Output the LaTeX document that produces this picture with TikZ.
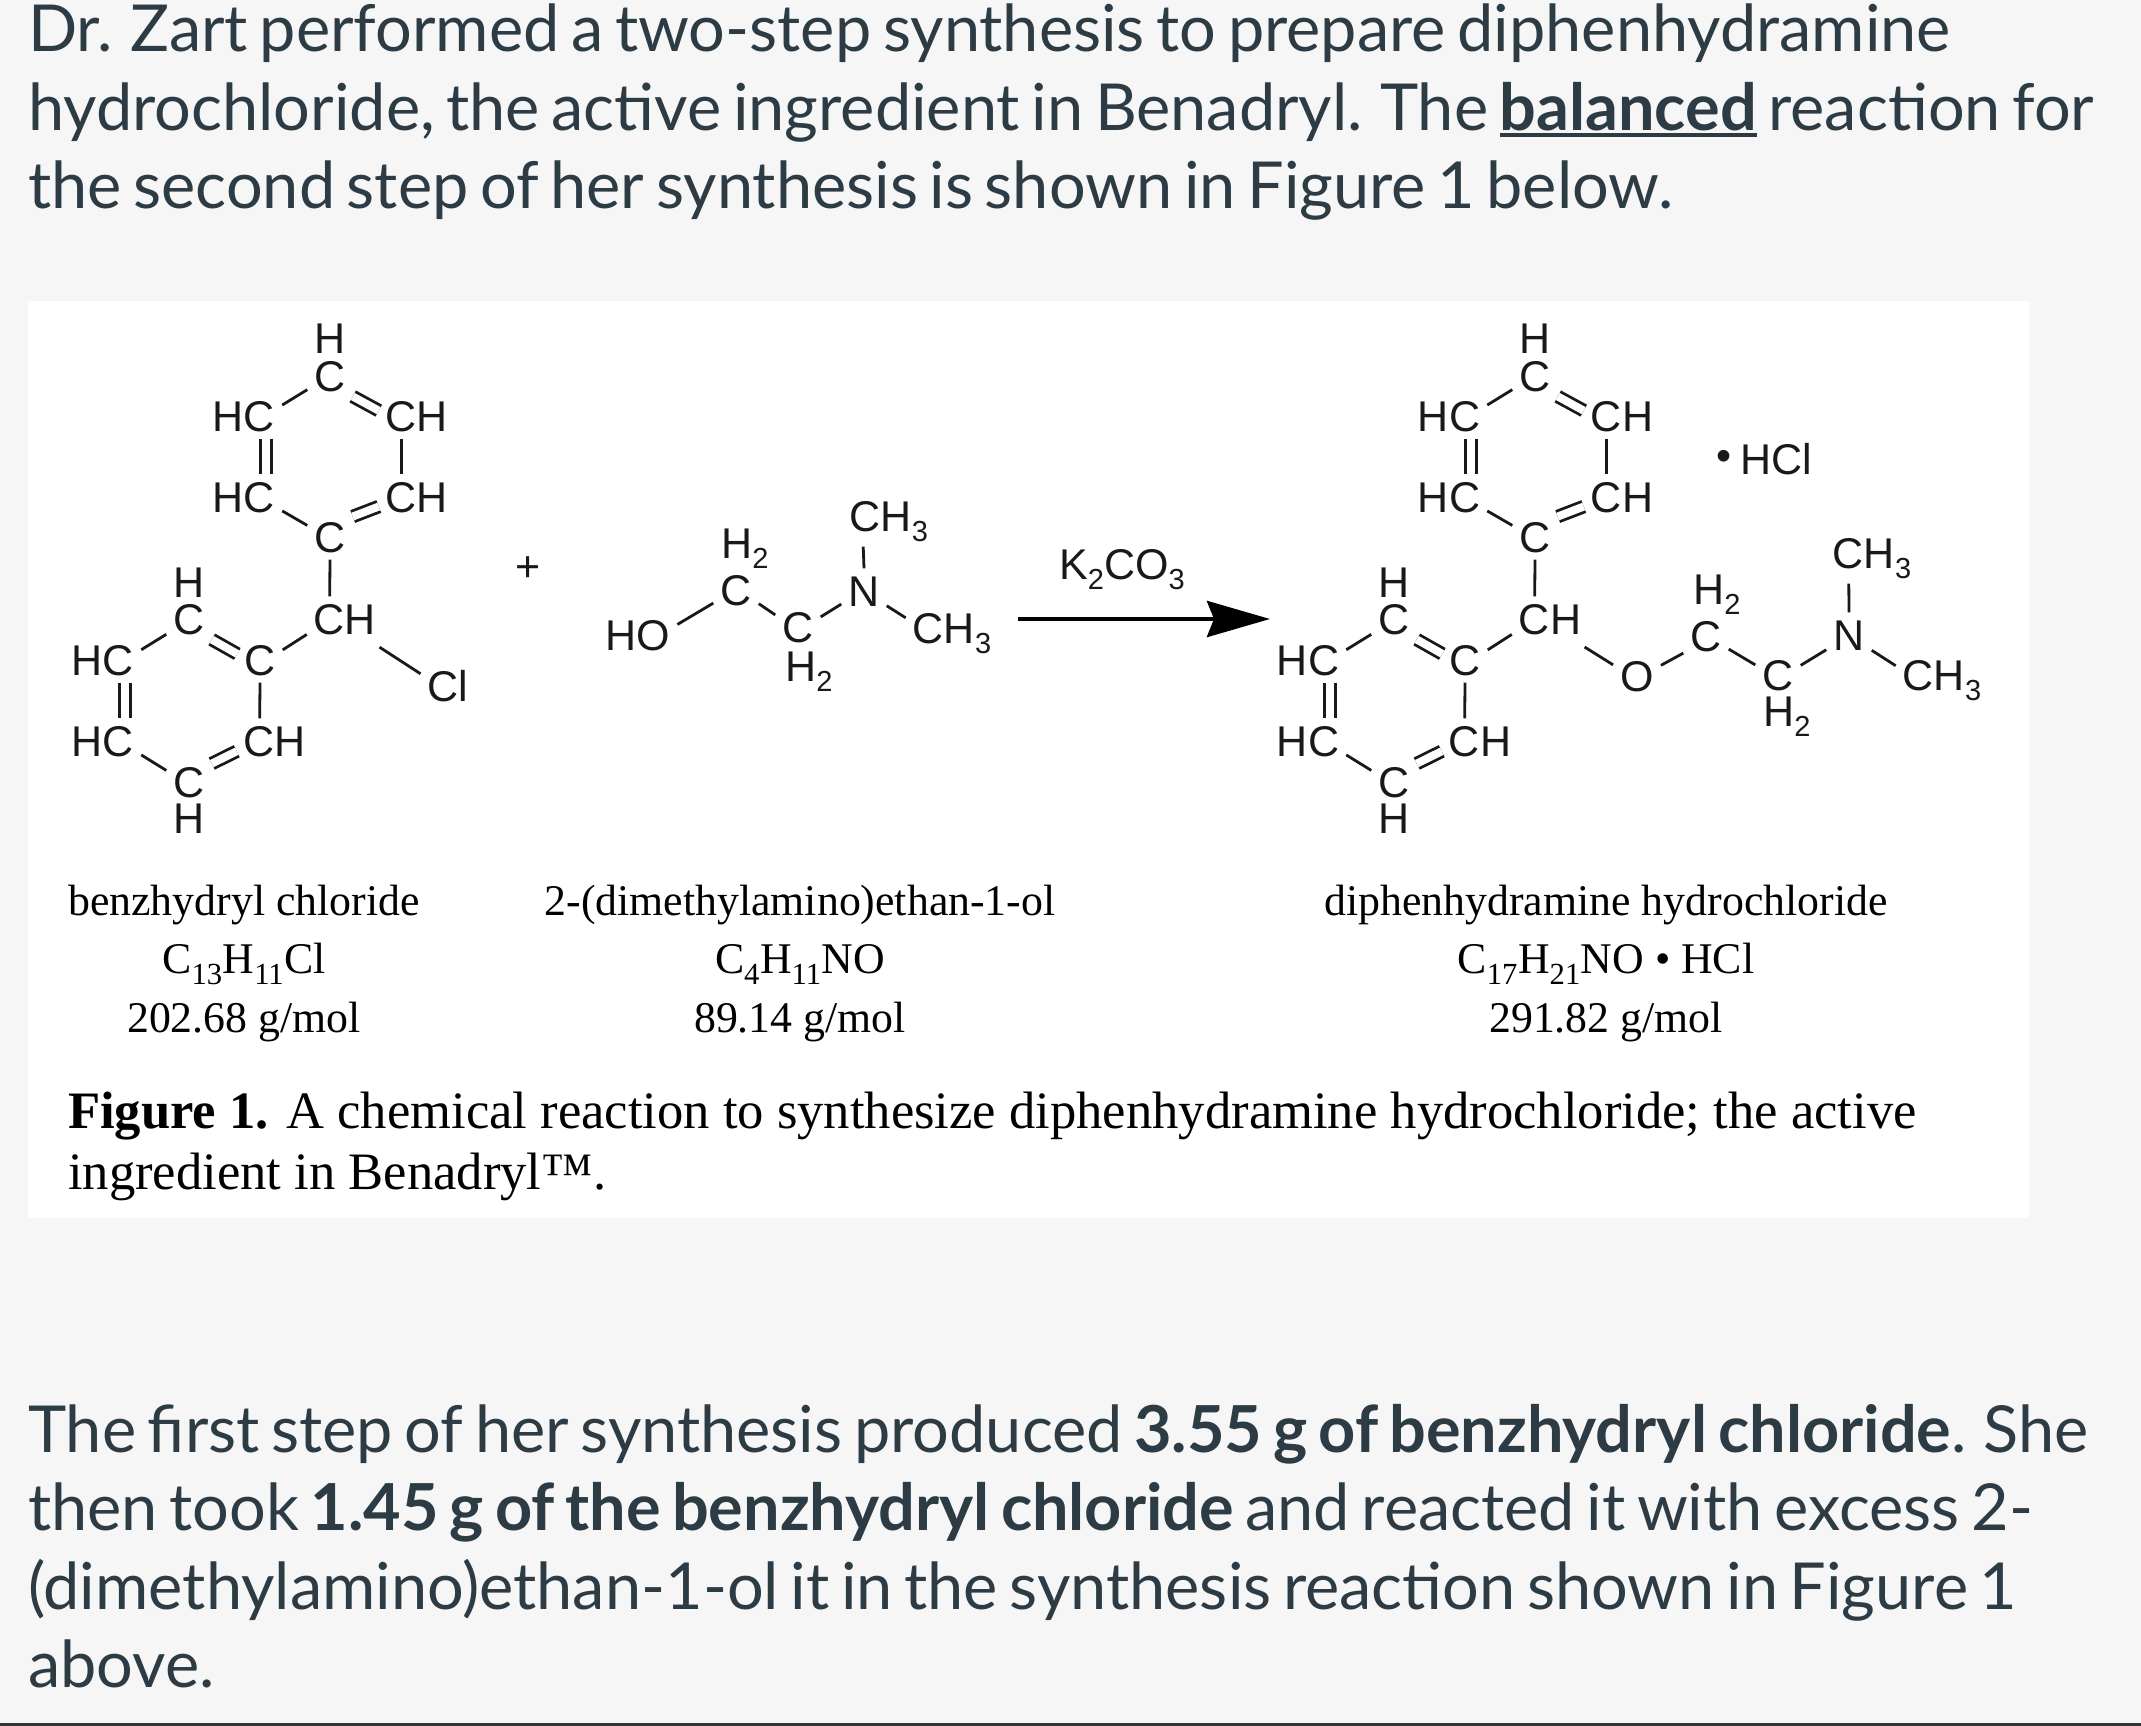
\documentclass[tikz,border=0pt]{standalone}
\usepackage{fontspec}
\setmainfont[WordSpace=0.7]{Lato}
\newfontfamily\chemfont{Liberation Sans}
\newfontfamily\capfont{Liberation Serif}
\usetikzlibrary{positioning,arrows.meta}
\definecolor{pagegray}{HTML}{F6F6F7}
\definecolor{slate}{HTML}{2D3B45}
\newcommand{\ulword}[1]{\setbox0\hbox{#1}\rlap{\rule[-7pt]{\wd0}{4pt}}\box0\relax}
\newcommand{\chsub}[1]{\raisebox{-10pt}{\fontsize{29}{29}\selectfont #1}}
\tikzset{
	every node/.style={on grid}, % distances between nodes are centre to centre
	atom/.style={inner sep=7pt, text height=31pt, text depth=0pt, font=\chemfont\fontsize{43}{43}\selectfont, text=black!90},
	grp/.style={atom, text depth=8pt}, % labels with a subscript
	bond/.style={line width=2.8pt, black!90},
	dbl/.style={bond, double, double distance=8pt}, % two strokes from node to node
	body/.style={anchor=north west, align=left, inner sep=0pt, text=slate, font=\fontsize{64.8}{78.5}\selectfont},
	molname/.style={anchor=base, inner sep=0pt, font=\capfont\fontsize{43.8}{44}\selectfont},
	figcap/.style={anchor=base west, inner sep=0pt, font=\capfont\fontsize{52.6}{53}\selectfont},
}
\begin{document}
\begin{tikzpicture}[x=1pt,y=-1pt]
	\useasboundingbox (0,0) rectangle (2141,1726);
	\fill[pagegray] (0,0) rectangle (2141,1726);
	\fill[white] (28,301) rectangle (2029,1218);
	\fill[black!80] (0,1723) rectangle (2141,1726);

	\node[body] (intro) at (28,4) {Dr. Zart performed a two-step synthesis to prepare diphenhydramine\\
		hydrochloride, the active ingredient in Benadryl. The \ulword{\textbf{balanced}} reaction for\\
		the second step of her synthesis is shown in Figure 1 below.};
	\node[body] (question) at (28,1404) {The first step of her synthesis produced \textbf{3.55 g of benzhydryl chloride}. She\\
		then took \textbf{1.45 g of the benzhydryl chloride} and reacted it with excess 2-\\
		(dimethylamino)ethan-1-ol it in the synthesis reaction shown in Figure 1\\
		above.};

	% the two phenyl rings, same in reactant and product
	\foreach \p/\x in {l/330,r/1535}{
		\node[atom] (\p-cA) at (\x,376) {C};
		\node[atom,above=38pt of \p-cA] (\p-hA) {H};
		\node[atom,below left=40pt and 86pt of \p-cA] (\p-hcA) {HC};
		\node[atom,below right=40pt and 87pt of \p-cA] (\p-chA) {CH};
		\node[atom,below=81pt of \p-hcA] (\p-hcB) {HC};
		\node[atom,below=81pt of \p-chA] (\p-chB) {CH};
		\node[atom,below=161pt of \p-cA] (\p-cB) {C};
		\node[atom,below right=82pt and 15pt of \p-cB] (\p-chM) {CH};
		\node[atom,below left=41pt and 85pt of \p-chM] (\p-cE) {C};
		\node[atom,above left=41pt and 71pt of \p-cE] (\p-cC) {C};
		\node[atom,above=37pt of \p-cC] (\p-hC) {H};
		\node[atom,below left=41pt and 86pt of \p-cC] (\p-hcC) {HC};
		\node[atom,below=81pt of \p-hcC] (\p-hcD) {HC};
		\node[atom,below right=81pt and 15pt of \p-cE] (\p-chD) {CH};
		\node[atom,below right=41pt and 86pt of \p-hcD] (\p-cD) {C};
		\node[atom,below=36pt of \p-cD] (\p-hD) {H};

		\draw[bond] (\p-hcA.16) -- (\p-cA.211);
		\draw[dbl] (\p-cA.-42) -- (\p-chA.172);
		\draw[dbl] (\p-hcA.-46) -- (\p-hcB.46);
		\draw[bond] (\p-chA.235) -- (\p-chB.125);
		\draw[bond] (\p-hcB.-20) -- (\p-cB.153);
		\draw[dbl] (\p-cB.42) -- (\p-chB.194);
		\draw[bond] (\p-cB.south) -- (\p-chM.124);
		\draw[bond] (\p-chM.202) -- (\p-cE.24);
		\draw[dbl] (\p-cC.-42) -- (\p-cE.165);
		\draw[bond] (\p-hcC.15) -- (\p-cC.214);
		\draw[dbl] (\p-hcC.-46) -- (\p-hcD.46);
		\draw[bond] (\p-cE.south) -- (\p-chD.124);
		\draw[bond] (\p-hcD.-20) -- (\p-cD.153);
		\draw[dbl] (\p-cD.39) -- (\p-chD.195);
	}

	\node[atom,anchor=center] (cl) at (448,686) {Cl};
	\draw[bond,shorten <=10pt] (l-chM.-41) -- (cl.156);
	\node[atom] (plus) at (528,566) {+};

	% amino alcohol
	\node[atom] (hoM) at (638,635) {HO};
	\node[atom,above right=45pt and 98pt of hoM] (cM) {C};
	\node[grp,above right=43pt and 9pt of cM] (hM) {H\chsub{2}};
	\node[atom,below right=37pt and 62pt of cM] (cN) {C};
	\node[grp,below right=43pt and 11pt of cN] (hN) {H\chsub{2}};
	\node[atom,above right=36pt and 66pt of cN] (nM) {N};
	\node[grp,above right=71pt and 25pt of nM] (meA) {CH\chsub{3}};
	\node[grp,below right=41pt and 88pt of nM] (meB) {CH\chsub{3}};
	\draw[bond] (hoM.15) -- (cM.210);
	\draw[bond] (cM.-31) -- (cN.152);
	\draw[bond] (cN.24) -- (nM.210);
	\draw[bond] (nM.north) -- (meA.226);
	\draw[bond] (nM.-33) -- (meB.163);

	% arrow
	\coordinate (arrs) at (1018,619);
	\coordinate (arre) at (1270,619);
	\draw[line width=4.5pt,black,-{Stealth[length=63pt,width=36pt,inset=7pt]}] (arrs) -- (arre);
	\node[grp] (kco) at (1122,568) {K\chsub{2}CO\chsub{3}};

	% ether chain of the product
	\node[atom,below right=57pt and 87pt of r-chM] (oP) {O};
	\node[atom,above right=40pt and 69pt of oP] (cP) {C};
	\node[grp,above right=43pt and 11pt of cP] (hP) {H\chsub{2}};
	\node[atom,below right=39pt and 72pt of cP] (cQ) {C};
	\node[grp,below right=40pt and 9pt of cQ] (hQ) {H\chsub{2}};
	\node[atom,above right=40pt and 71pt of cQ] (nP) {N};
	\node[grp,above right=78pt and 23pt of nP] (meC) {CH\chsub{3}};
	\node[grp,below right=44pt and 93pt of nP] (meD) {CH\chsub{3}};
	\node[atom,text height=22pt] (dotP) at (1724,459) {\textbullet};
	\node[atom] (hclP) at (1776,459) {HCl};
	\draw[bond,shorten <=10pt] (r-chM.-41) -- (oP.155);
	\draw[bond] (oP.24) -- (cP.217);
	\draw[bond] (cP.-30) -- (cQ.156);
	\draw[bond] (cQ.23) -- (nP.213);
	\draw[bond] (nP.north) -- (meC.229);
	\draw[bond] (nP.-34) -- (meD.164);

	% names under the molecules
	\node[molname] (nameA) at (244,915) {benzhydryl chloride};
	\node[molname] (formA) at (244,973) {C\textsubscript{13}H\textsubscript{11}Cl};
	\node[molname] (massA) at (244,1032) {202.68 g/mol};
	\node[molname] (nameB) at (800,915) {2-(dimethylamino)ethan-1-ol};
	\node[molname] (formB) at (800,973) {C\textsubscript{4}H\textsubscript{11}NO};
	\node[molname] (massB) at (800,1032) {89.14 g/mol};
	\node[molname] (nameC) at (1606,915) {diphenhydramine hydrochloride};
	\node[molname] (formC) at (1606,973) {C\textsubscript{17}H\textsubscript{21}NO • HCl};
	\node[molname] (massC) at (1606,1032) {291.82 g/mol};

	\node[figcap] (capA) at (68,1128) {\textbf{Figure 1.} A chemical reaction to synthesize diphenhydramine hydrochloride; the active};
	\node[figcap] (capB) at (68,1189) {ingredient in Benadryl™.};
\end{tikzpicture}
\end{document}
